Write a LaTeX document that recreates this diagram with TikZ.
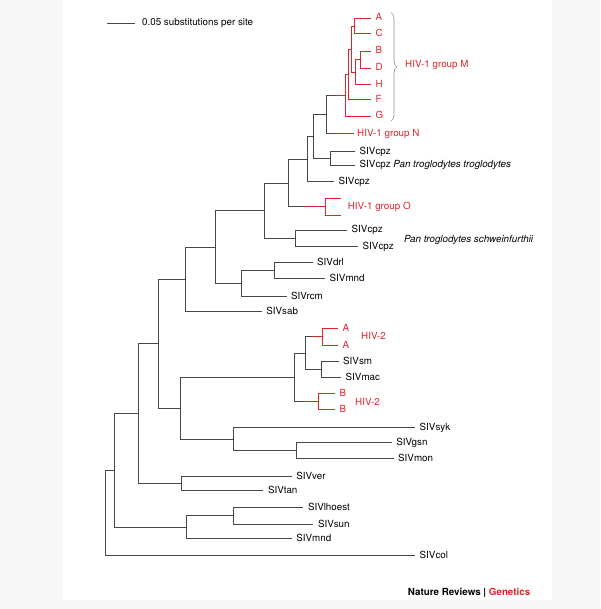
\documentclass[tikz,border=0pt]{standalone}
\usepackage{fontspec}
\setmainfont{TeX Gyre Heros}
\usepackage{tikz}
\usetikzlibrary{decorations.pathreplacing}
\definecolor{hivRed}{RGB}{226,35,42}
\definecolor{braceGray}{RGB}{150,150,150}
\definecolor{panelGray}{RGB}{247,247,247}
\tikzset{
  branch/.style={line width=0.7pt, black!72},
  hivbranch/.style={line width=0.7pt, hivRed},
  leaf/.style={anchor=west, inner xsep=4.5pt, inner ysep=0pt, text height=7pt, text depth=1pt, font=\fontsize{9.8}{11}\selectfont},
  hivleaf/.style={leaf, text=hivRed},
  tag/.style={anchor=west, inner sep=0pt, text height=7pt, text depth=1pt, font=\fontsize{9.8}{11}\selectfont}
}

\begin{document}
\begin{tikzpicture}[x=1pt,y=-1pt]
  % page and panel
  \fill[panelGray] (0,0) rectangle (600,609);
  \fill[white] (63,0) rectangle (552,600);
  \useasboundingbox (0,0) rectangle (600,609);

  % scale bar
  \coordinate (sb1) at (107,23);
  \coordinate (sb2) at (135,23);
  \draw[branch] (sb1) -- (sb2);
  \node[tag] (sbl) at (142,23) {0.05 substitutions per site};

  % internal nodes (x of the vertical, middle of its span)
  \coordinate (nAC) at (354,25.9);
  \coordinate (nBD) at (360,59.5);
  \coordinate (nBDH) at (355,72.1);
  \coordinate (nACBDH) at (351,49);
  \coordinate (nMF) at (348.3,74.3);
  \coordinate (nM) at (345.7,95.2);
  \coordinate (sM) at (335,95.2);
  \coordinate (nNM) at (326.7,114.5);
  \coordinate (sN) at (335,133.7);
  \coordinate (nCpzPair) at (330,158.3);
  \coordinate (nNMcpz) at (313.3,136.4);
  \coordinate (nCpzG) at (307.3,159);
  \coordinate (nO) at (325,206.7);
  \coordinate (sO) at (306.7,206.7);
  \coordinate (nCpzO) at (288.3,182.9);
  \coordinate (nSchw) at (295,238.3);
  \coordinate (nChimp) at (264.3,210.6);
  \coordinate (nDrlMnd) at (274,270.5);
  \coordinate (nRcm) at (241.7,283.3);
  \coordinate (nChimpRcm) at (215,247);
  \coordinate (nSab) at (185,279.3);
  \coordinate (nH2A) at (322.5,336.7);
  \coordinate (sH2A) at (313,336.7);
  \coordinate (nSmMac) at (321,369.7);
  \coordinate (nH2ASm) at (305.3,353.2);
  \coordinate (nH2B) at (318.3,401.5);
  \coordinate (sH2B) at (305,401.5);
  \coordinate (nSmAll) at (294.3,377.4);
  \coordinate (nGsnMon) at (296.7,450.5);
  \coordinate (nSykGsn) at (233.3,439.1);
  \coordinate (nSmSyk) at (180,408.3);
  \coordinate (nCpzSm) at (158.3,343.8);
  \coordinate (nVerTan) at (181,483.7);
  \coordinate (nVer) at (138.3,413.7);
  \coordinate (nLhSun) at (233.3,515.8);
  \coordinate (nLhMnd) at (186.7,527);
  \coordinate (nAfr) at (114,470.4);
  \coordinate (nRoot) at (105,512.7);

  % leaves
  \node[hivleaf] (lA) at (371,18) {A};
  \node[hivleaf] (lC) at (371,33.7) {C};
  \node[hivleaf] (lB) at (371,51) {B};
  \node[hivleaf] (lD) at (371,68) {D};
  \node[hivleaf] (lH) at (371,84.7) {H};
  \node[hivleaf] (lF) at (371,99.7) {F};
  \node[hivleaf] (lG) at (371,116) {G};
  \node[hivleaf, inner xsep=3pt] (lN) at (354,133.7) {HIV-1 group N};
  \node[leaf] (lCpzA) at (355,151.7) {SIVcpz};
  \node[leaf] (lCpzB) at (355,165) {SIVcpz \textit{Pan troglodytes troglodytes}};
  \node[leaf] (lCpzC) at (334,181.7) {SIVcpz};
  \coordinate (oA) at (341,198.3);
  \coordinate (oB) at (341,215);
  \node[tag, text=hivRed] (lblO) at (347.7,206.7) {HIV-1 group O};
  \node[leaf] (lSchwA) at (347,230) {SIVcpz};
  \node[leaf] (lSchwB) at (358,246.7) {SIVcpz};
  \node[tag] (lblSchw) at (403.8,239) {\textit{Pan troglodytes schweinfurthii}};
  \node[leaf] (lDrl) at (312.5,262.7) {SIVdrl};
  \node[leaf] (lMnd1) at (325,278.3) {SIVmnd};
  \node[leaf] (lRcm) at (286.5,296) {SIVrcm};
  \node[leaf] (lSab) at (261.7,311.7) {SIVsab};
  \node[hivleaf] (lH2Aa) at (338,328.3) {A};
  \node[hivleaf] (lH2Ab) at (338,345) {A};
  \node[tag, text=hivRed] (lblH2A) at (361,336.7) {HIV-2};
  \node[leaf] (lSm) at (338.5,361.7) {SIVsm};
  \node[leaf] (lMac) at (341,377.7) {SIVmac};
  \node[hivleaf] (lH2Ba) at (335,393.3) {B};
  \node[hivleaf] (lH2Bb) at (335,409.3) {B};
  \node[tag, text=hivRed] (lblH2B) at (355,402.7) {HIV-2};
  \node[leaf] (lSyk) at (415,427.7) {SIVsyk};
  \node[leaf] (lGsn) at (391.7,442.7) {SIVgsn};
  \node[leaf] (lMon) at (393.5,458.3) {SIVmon};
  \node[leaf] (lVer) at (291.7,476.7) {SIVver};
  \node[leaf] (lTan) at (263.3,490.7) {SIVtan};
  \node[leaf] (lLhoest) at (303.3,507.7) {SIVlhoest};
  \node[leaf] (lSun) at (313.3,524) {SIVsun};
  \node[leaf] (lMnd2) at (291.7,538.3) {SIVmnd};
  \node[leaf] (lCol) at (415,555) {SIVcol};

  % HIV-1 group M
  \draw[hivbranch] (nM) |- (nMF) (nM) |- (lG.west)
    (nMF) |- (nACBDH) (nMF) |- (lF.west)
    (nACBDH) |- (nAC) (nACBDH) |- (nBDH)
    (nAC) |- (lA.west) (nAC) |- (lC.west)
    (nBDH) |- (nBD) (nBDH) |- (lH.west)
    (nBD) |- (lB.west) (nBD) |- (lD.west);
  \draw[branch] (nNM) |- (sM) (nNM) |- (sN);
  \draw[hivbranch] (sM) -- (nM) (sN) -- (lN.west);
  \draw[braceGray, line width=0.6pt, decorate, decoration={brace, amplitude=6pt}]
    (391,12.5) -- (391,121);
  \node[tag, text=hivRed] (lblM) at (405,65) {HIV-1 group M};

  % chimpanzee viruses
  \draw[branch] (nNMcpz) |- (nNM) (nNMcpz) |- (nCpzPair)
    (nCpzPair) |- (lCpzA.west) (nCpzPair) |- (lCpzB.west)
    (nCpzG) |- (nNMcpz) (nCpzG) |- (lCpzC.west)
    (nCpzO) |- (nCpzG) (nCpzO) |- (sO);
  \draw[hivbranch] (sO) -- (nO) (nO) |- (oA) (nO) |- (oB);
  \draw[branch] (nChimp) |- (nCpzO) (nChimp) |- (nSchw)
    (nSchw) |- (lSchwA.west) (nSchw) |- (lSchwB.west)
    (nChimpRcm) |- (nChimp) (nChimpRcm) |- (nRcm)
    (nRcm) |- (nDrlMnd) (nRcm) |- (lRcm.west)
    (nDrlMnd) |- (lDrl.west) (nDrlMnd) |- (lMnd1.west)
    (nSab) |- (nChimpRcm) (nSab) |- (lSab.west)
    (nCpzSm) |- (nSab) (nCpzSm) |- (nSmSyk);

  % HIV-2 and sooty mangabey viruses
  \draw[branch] (nSmSyk) |- (nSmAll) (nSmSyk) |- (nSykGsn)
    (nSmAll) |- (nH2ASm) (nSmAll) |- (sH2B)
    (nH2ASm) |- (sH2A) (nH2ASm) |- (nSmMac)
    (nSmMac) |- (lSm.west) (nSmMac) |- (lMac.west);
  \draw[hivbranch] (sH2A) -- (nH2A) (nH2A) |- (lH2Aa.west) (nH2A) |- (lH2Ab.west)
    (sH2B) -- (nH2B) (nH2B) |- (lH2Ba.west) (nH2B) |- (lH2Bb.west);

  % other primate lentiviruses
  \draw[branch] (nSykGsn) |- (lSyk.west) (nSykGsn) |- (nGsnMon)
    (nGsnMon) |- (lGsn.west) (nGsnMon) |- (lMon.west)
    (nVer) |- (nCpzSm) (nVer) |- (nVerTan)
    (nVerTan) |- (lVer.west) (nVerTan) |- (lTan.west)
    (nAfr) |- (nVer) (nAfr) |- (nLhMnd)
    (nLhMnd) |- (nLhSun) (nLhMnd) |- (lMnd2.west)
    (nLhSun) |- (lLhoest.west) (nLhSun) |- (lSun.west)
    (nRoot) |- (nAfr) (nRoot) |- (lCol.west);

  % credit line
  \node[tag, font=\fontsize{9.8}{11}\selectfont\bfseries] (credit) at (407.7,592.7)
    {Nature Reviews | \textcolor{hivRed}{Genetics}};
\end{tikzpicture}
\end{document}
